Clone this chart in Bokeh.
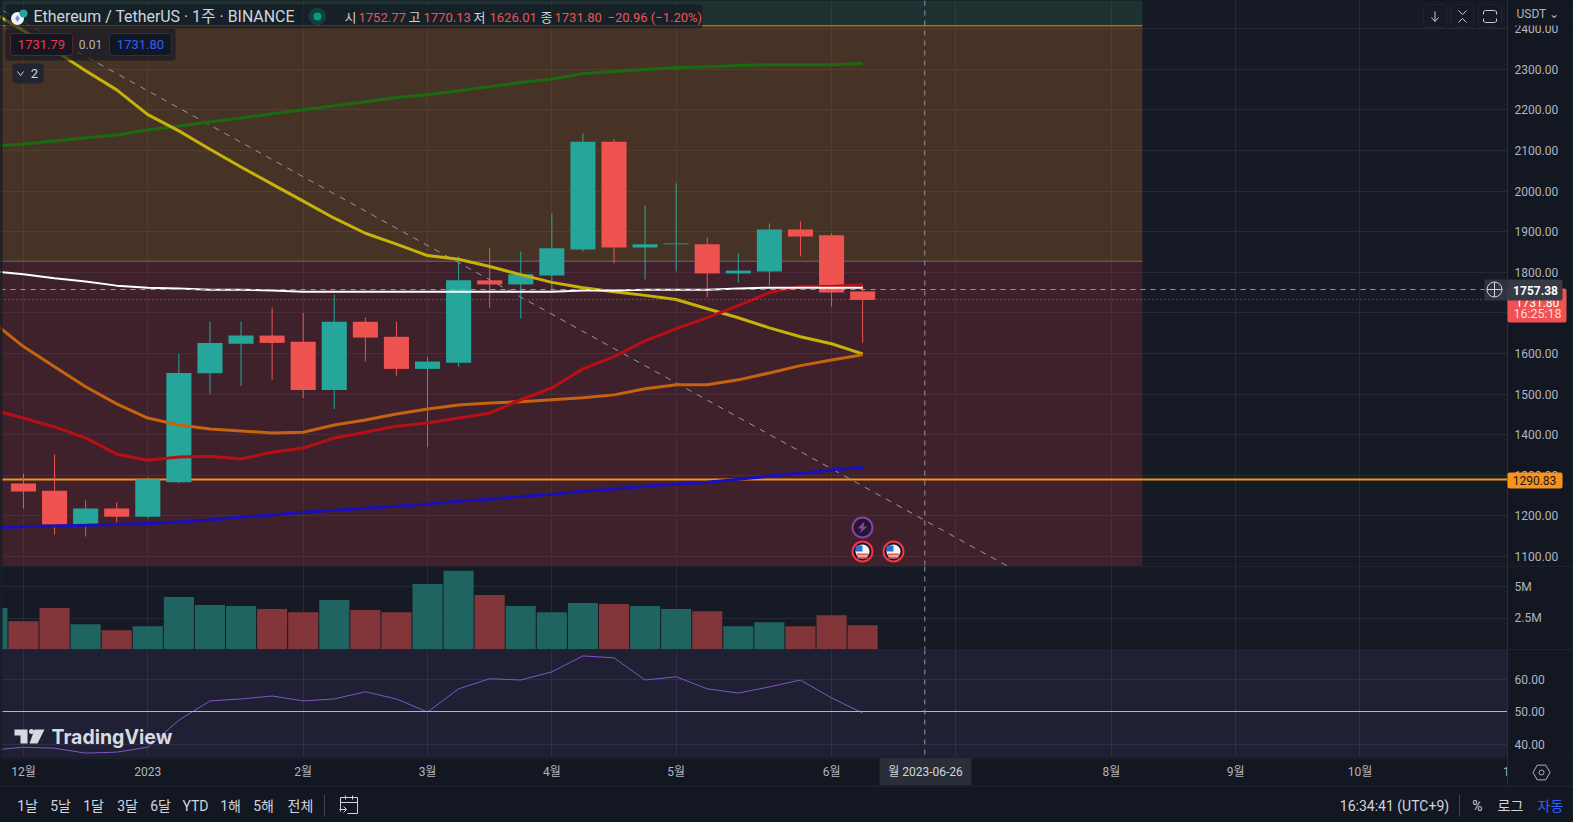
from bokeh.core.properties import value
from bokeh.embed import file_html
from bokeh.layouts import column
from bokeh.models import (BoxAnnotation, ColumnDataSource, FixedTicker, GlobalInlineStyleSheet, Label,
                          NumeralTickFormatter, Range1d, Span)
from bokeh.plotting import figure
from bokeh.resources import INLINE
import pandas as pd

# ETH/USDT weekly, 2022-11-28 .. 2023-06-12
dates = ["2022-11-28", "2022-12-05", "2022-12-12", "2022-12-19", "2022-12-26", "2023-01-02", "2023-01-09",
         "2023-01-16", "2023-01-23", "2023-01-30", "2023-02-06", "2023-02-13", "2023-02-20", "2023-02-27",
         "2023-03-06", "2023-03-13", "2023-03-20", "2023-03-27", "2023-04-03", "2023-04-10", "2023-04-17",
         "2023-04-24", "2023-05-01", "2023-05-08", "2023-05-15", "2023-05-22", "2023-05-29", "2023-06-05",
         "2023-06-12"]
# candles start one week later, the first week is off screen
opens = [1280, 1262, 1179, 1218, 1198, 1283, 1551, 1624, 1644, 1629, 1510, 1678, 1641, 1562, 1577, 1780,
         1770, 1792, 1856, 2121, 1861, 1869, 1869, 1797, 1802, 1905, 1891, 1752.77]
closes = [1260, 1179, 1218, 1198, 1290, 1552, 1626, 1644, 1626, 1510, 1678, 1639, 1562, 1580, 1780, 1770,
          1795, 1859, 2121, 1861, 1869, 1871, 1797, 1804, 1905, 1888, 1750, 1731.80]
highs = [1304, 1351, 1238, 1233, 1295, 1599, 1678, 1678, 1713, 1700, 1745, 1688, 1678, 1592, 1839, 1859,
         1851, 1945, 2143, 2128, 1965, 2019, 1886, 1846, 1920, 1925, 1896, 1770.13]
lows = [1218, 1154, 1149, 1184, 1194, 1280, 1500, 1520, 1535, 1490, 1463, 1580, 1545, 1369, 1567, 1713,
        1686, 1752, 1851, 1822, 1782, 1802, 1738, 1775, 1767, 1839, 1715, 1626.01]
volumes = [3.31, 2.26, 3.31, 2.02, 1.53, 1.85, 4.19, 3.55, 3.47, 3.23, 2.98, 3.95, 3.15, 2.98, 5.24, 6.29, 4.35,
           3.47, 2.98, 3.71, 3.63, 3.47, 3.23, 3.06, 1.85, 2.18, 1.85, 2.74, 1.94]
rsi = [38.3, 39.2, 38.9, 37.4, 37.7, 39.2, 47.5, 53.4, 54.0, 54.9, 53.4, 54.0, 56.2, 54.0, 50.0, 57.1, 60.2,
       59.8, 62.3, 67.2, 66.6, 59.8, 60.8, 57.1, 55.8, 57.7, 59.8, 54.3, 49.7]

ma_yellow = [2440, 2395, 2346, 2296, 2249, 2188, 2148, 2103, 2059, 2017, 1975, 1933, 1896, 1869, 1841, 1832, 1814,
             1794, 1775, 1762, 1752, 1743, 1733, 1710, 1688, 1663, 1641, 1624, 1599]
ma_orange = [1678, 1617, 1567, 1518, 1476, 1441, 1424, 1414, 1409, 1404, 1406, 1424, 1436, 1451, 1463, 1473, 1478,
             1481, 1486, 1491, 1498, 1513, 1523, 1523, 1535, 1552, 1570, 1584, 1597]
ma_red = [1461, 1441, 1419, 1392, 1352, 1337, 1345, 1347, 1340, 1357, 1367, 1392, 1406, 1421, 1429, 1441, 1453,
          1486, 1515, 1562, 1592, 1631, 1661, 1688, 1718, 1750, 1765, 1765, 1770]
ma_white = [1802, 1795, 1785, 1777, 1767, 1762, 1760, 1757, 1757, 1755, 1752, 1752, 1752, 1752, 1752, 1752, 1752,
            1752, 1752, 1755, 1755, 1757, 1757, 1757, 1760, 1762, 1762, 1762, 1762]
ma_green = [2111, 2116, 2123, 2131, 2138, 2150, 2160, 2170, 2180, 2190, 2200, 2210, 2220, 2230, 2237, 2247, 2257,
            2267, 2276, 2289, 2294, 2299, 2304, 2306, 2309, 2311, 2311, 2311, 2314]
ma_blue = [1171, 1173, 1175, 1177, 1179, 1181, 1185, 1190, 1197, 1202, 1209, 1214, 1219, 1224, 1229, 1236, 1241,
           1248, 1253, 1261, 1266, 1273, 1278, 1283, 1290, 1298, 1305, 1313, 1320]

trend_dates = ["2022-11-14", "2023-07-17"]
trend_prices = [2543, 1062]
zone_dates = ["2022-06-06", "2023-08-14"]
zone_levels = [2600, 2407, 1827, 1000]
last_price = 1731.80
cross_price = 1757.38
support_price = 1290.83
cross_date = "2023-06-26"

price_ticks = [1100, 1200, 1300, 1400, 1500, 1600, 1700, 1800, 1900, 2000, 2100, 2200, 2300, 2400]
volume_ticks = [2500000, 5000000]
volume_tick_labels = ["2.5M", "5M"]
rsi_ticks = [40, 50, 60]
month_dates = ["2022-12-05", "2023-01-02", "2023-02-06", "2023-03-06", "2023-04-03", "2023-05-01", "2023-06-05",
               "2023-08-07", "2023-09-04", "2023-10-02", "2023-11-06"]
month_labels = ["12월", "2023", "2월", "3월", "4월", "5월", "6월", "8월", "9월", "10월", "11월"]
range_buttons = ["1날", "5날", "1달", "3달", "6달", "YTD", "1해", "5해", "전체"]
range_button_x = [27, 60, 93, 127, 160, 195, 230, 263, 300]

BG = "#131722"
FRAME = "#161a25"
GRID = "#262a36"
SEP = "#2a2e39"
TXT = "#b2b5be"
UP = "#26a69a"
DOWN = "#ef5350"
FONT = "Roboto, 'Noto Sans CJK KR', sans-serif"
PX = dict(x_range_name="px", y_range_name="px")
OVER = dict(x_range_name="px", y_range_name="px", level="overlay")


def ms(day):
    return pd.Timestamp(day).timestamp() * 1000


# the time scale: one week is 31.08px and 2023-01-02 sits at x=147.3
week_ms = 7 * 86400000
anchor = ms("2023-01-02")
x_range = Range1d(anchor - 147.3 / 31.08 * week_ms, anchor + 1425.7 / 31.08 * week_ms)
axis_x = anchor + 1359.7 / 31.08 * week_ms
month_ms = [ms(d) for d in month_dates] + [ms("2023-07-03")]

candles = ColumnDataSource(dict(
    t=pd.to_datetime(dates[1:]), o=opens, c=closes, h=highs, l=lows,
    body=[UP if c >= o else DOWN for o, c in zip(opens, closes)],
))
lower = ColumnDataSource(dict(
    t=pd.to_datetime(dates), vol=[v * 1000000 for v in volumes], rsi=rsi,
    volc=["#1f6460"] + ["#1f6460" if c >= o else "#823639" for o, c in zip(opens, closes)],
))


def pane(height, y_start, y_end, top_px, bottom_px):
    f = figure(x_range=x_range, y_range=Range1d(y_start, y_end), x_axis_location=None, y_axis_location="right",
               frame_width=1573, frame_height=height, min_border=0,
               output_backend="svg", toolbar_location=None, background_fill_color=FRAME, border_fill_color=BG)
    f.outline_line_color = None
    f.extra_x_ranges = {"px": Range1d(0, 1573)}
    f.extra_y_ranges = {"px": Range1d(bottom_px, top_px)}
    f.xgrid.ticker = FixedTicker(ticks=month_ms)
    f.xgrid.grid_line_color = GRID
    f.ygrid.grid_line_color = GRID
    f.yaxis.fixed_location = axis_x
    f.yaxis.axis_line_color = SEP
    f.yaxis.major_tick_line_color = None
    f.yaxis.minor_tick_line_color = None
    f.yaxis.major_label_text_color = TXT
    f.yaxis.major_label_text_font = FONT
    f.yaxis.major_label_text_font_size = "12px"
    f.yaxis.major_label_standoff = 1
    return f


def cover(f, top_px, bottom_px):
    # plain background behind the price scale, grid and levels stop at the axis
    f.quad(left=[1507], right=[1573], top=[top_px], bottom=[bottom_px], fill_color=BG, line_color=None, **PX)


def box(f, l, t, r, b, fill, alpha=1.0, line=None, radius=0):
    f.add_layout(BoxAnnotation(left=l, right=r, top=t, bottom=b, x_range_name="px", y_range_name="px",
                               fill_color=fill, fill_alpha=alpha, line_color=line, border_radius=radius))


def note(f, x, y, text, color=TXT, size=13, align="left", style="normal", font=FONT):
    f.add_layout(Label(x=x, y=y, text=text, x_range_name="px", y_range_name="px", text_color=color,
                       text_font=font, text_font_size=f"{size}px", text_align=align, text_baseline="middle",
                       text_font_style=style))


# price pane
p = pane(566, 1075.4, 2469.1, 0, 566)
p.yaxis.ticker = FixedTicker(ticks=price_ticks)
p.yaxis.formatter = NumeralTickFormatter(format="0.00")

zone_x = pd.to_datetime(zone_dates)
for top, bottom, color in zip(zone_levels[:-1], zone_levels[1:], ["#397a5c", "#d98128", "#bd3944"]):
    p.quad(left=zone_x[0], right=zone_x[1], top=top, bottom=bottom, fill_color=color, fill_alpha=0.25, line_color=None)
p.line(zone_x, [zone_levels[1]] * 2, line_color="#f57c00", line_width=1)
p.line(zone_x, [zone_levels[2]] * 2, line_color="#6b6670", line_width=1)
p.hspan(y=[support_price], line_color="#f7931a", line_width=2)
p.line(pd.to_datetime(trend_dates), trend_prices, line_color="#9598a1", line_width=1, line_dash=[6, 6])

p.segment("t", "h", "t", "l", source=candles, line_color="body", line_width=1)
p.vbar("t", top="o", bottom="c", width=week_ms * 25 / 31, source=candles, fill_color="body", line_color=None)

for series, color, lw in [(ma_green, "#1a6b10", 3), (ma_yellow, "#c7b20b", 3), (ma_orange, "#c7620f", 3),
                          (ma_red, "#b80f15", 3), (ma_blue, "#1a0fb9", 3), (ma_white, "#ffffff", 2)]:
    p.line(pd.to_datetime(dates), series, line_color=color, line_width=lw)

p.hspan(y=[last_price], line_color="#ef5350", line_width=1, line_dash=value([1, 3]))
p.hspan(y=[cross_price], line_color="#9598a1", line_width=1, line_dash=value([5, 5]))
cover(p, 0, 566)
p.add_layout(Span(location=ms(cross_date), dimension="height", line_color="#9598a1", line_width=1, line_dash=[5, 5]))
box(p, 0, 0, 2, 566, "#17212b")

# legend panels
box(p, 5, 4, 702, 28, "#131722", 0.65, radius=3)
box(p, 5, 28, 175, 60, "#131722", 0.65, radius=3)
note(p, 33, 16, "Ethereum / TetherUS · 1주 · BINANCE", "#d1d4dc", 15.9)
for x, text, color in [(344, "시", "#d1d4dc"), (358, "1752.77", DOWN), (408, "고", "#d1d4dc"), (423, "1770.13", DOWN),
                       (473, "저", "#d1d4dc"), (489, "1626.01", DOWN), (540, "종", "#d1d4dc"), (554, "1731.80", DOWN),
                       (607, "−20.96 (−1.20%)", DOWN)]:
    note(p, x, 17, text, color, 13)
box(p, 10, 33, 72, 55, "#131722", line="#f23645", radius=3)
note(p, 41, 44, "1731.79", "#f23645", 13, "center")
note(p, 90, 44, "0.01", TXT, 12, "center")
box(p, 109, 33, 171, 55, "#131722", line="#2962ff", radius=3)
note(p, 140, 44, "1731.80", "#2962ff", 13, "center")
box(p, 12, 63, 43, 83, "#22252f", radius=3)
note(p, 34, 73, "2", "#d1d4dc", 13, "center")
p.multi_line([[17, 20, 23]], [[71, 75, 71]], line_color="#d1d4dc", **OVER)

# symbol logo and status dot
p.scatter([17], [18], size=13, fill_color="#f0f3fa", line_color=None, **OVER)
p.scatter([17], [18], size=7, marker="diamond", fill_color="#7b8cd8", line_color=None, **OVER)
p.scatter([23], [13], size=8, fill_color="#26a69a", line_color=None, **OVER)
p.scatter([317], [16], size=18, fill_color="#089981", fill_alpha=0.25, line_color=None, **OVER)
p.scatter([317], [16], size=8, fill_color="#089981", line_color=None, **OVER)

# top right buttons
for l in [1423, 1450, 1478]:
    box(p, l, 4, l + 23, 27, "#161a25", line="#363a45", radius=4)
p.multi_line([[1434.5, 1434.5], [1431, 1434.5, 1438], [1458, 1462, 1466], [1458, 1462, 1466],
              [1483, 1483, 1485, 1494, 1496, 1496], [1483, 1483, 1485, 1494, 1496, 1496]],
             [[11, 21], [17, 21, 17], [10, 14, 10], [22, 18, 22], [14, 11, 10, 10, 11, 14], [18, 21, 22, 22, 21, 18]],
             line_color="#c8cbd3", line_width=1, **OVER)

# event markers
p.scatter([862], [527], size=20, fill_color="#1e1a2c", line_color="#8e3fa8", line_width=2, **OVER)
p.patch([864, 857, 861, 859, 867, 863], [521, 528, 528, 533, 526, 526], fill_color="#8e3fa8", line_color=None, **OVER)
for fx in [862, 893]:
    p.scatter([fx], [551], size=20, fill_color="#131722", line_color="#f23645", line_width=2, **OVER)
    p.scatter([fx], [551], size=14, fill_color="#f5f5f5", line_color=None, **OVER)
    p.quad(left=[fx - 7], right=[fx], top=[545], bottom=[551], fill_color="#2f6fd0", line_color=None, **OVER)
    p.quad(left=[fx - 6, fx - 5], right=[fx + 6, fx + 5], top=[553, 556], bottom=[555, 558], fill_color="#ef5350",
           line_color=None, **OVER)

# price axis boxes
box(p, 1508, 0, 1573, 25, BG)
note(p, 1516, 13, "USDT ⌄", TXT, 12)
box(p, 1507, 472, 1562, 488, "#f7931a", radius=2)
note(p, 1534, 480, "1290.83", "#131722", 12, "center")
box(p, 1507, 288, 1566, 322, "#f05252", radius=2)
note(p, 1537, 302, "1731.80", "#ffffff", 12, "center")
note(p, 1537, 313, "16:25:18", "#ffd9d9", 12.5, "center")
box(p, 1484, 279, 1507, 300, "#2f3340")
box(p, 1507, 279, 1562, 300, "#363a45", radius=2)
note(p, 1535, 290, "1757.38", "#ffffff", 12, "center", "bold")
p.scatter([1494], [289], marker="circle_cross", size=15, fill_color=None, line_color="#d1d4dc", **OVER)

# volume pane
v = pane(83, 0, 6630000, 566, 649)
v.yaxis.ticker = FixedTicker(ticks=volume_ticks)
v.yaxis.major_label_overrides = dict(zip(volume_ticks, volume_tick_labels))
v.vbar("t", top="vol", width=week_ms * 30 / 31, source=lower, fill_color="volc", line_color=None)
cover(v, 566, 649)
v.add_layout(Span(location=ms(cross_date), dimension="height", line_color="#9598a1", line_width=1, line_dash=[5, 5]))
v.line([0, 1573], [566, 566], line_color=SEP, **PX)
box(v, 0, 566, 2, 649, "#17212b")

# rsi pane
r = pane(108, 36.05, 69.16, 649, 757)
r.yaxis.ticker = FixedTicker(ticks=rsi_ticks)
r.yaxis.formatter = NumeralTickFormatter(format="0.00")
r.hstrip(y0=[30], y1=[70], fill_color="#7e57c2", fill_alpha=0.1, line_color=None)
r.line("t", "rsi", source=lower, line_color="#7e57c2", line_width=1)
r.hspan(y=[50], line_color="#b2b5be", line_width=1)
cover(r, 649, 757)
r.add_layout(Span(location=ms(cross_date), dimension="height", line_color="#9598a1", line_width=1, line_dash=[5, 5]))
r.line([0, 1573], [649, 649], line_color=SEP, **PX)
box(r, 0, 649, 2, 757, "#17212b")
# TradingView logo
r.patch([14, 27, 27, 20, 20, 14], [729, 729, 743, 743, 735, 735], fill_color="#d8dae2", line_color=None, **OVER)
r.patch([34, 44, 37, 29], [729, 729, 743, 743], fill_color="#d8dae2", line_color=None, **OVER)
r.scatter([31], [731], size=5, fill_color="#d8dae2", line_color=None, **OVER)
note(r, 51, 736, "TradingView", "#d8dae2", 19.5, "left", "bold", "Inter")

# time axis strip
tx = figure(x_range=x_range, y_range=Range1d(785, 757), x_axis_location=None, y_axis_location=None,
            frame_width=1573, frame_height=28, min_border=0,
            output_backend="svg", toolbar_location=None, background_fill_color=BG, border_fill_color=BG)
tx.outline_line_color = None
tx.grid.visible = False
tx.extra_x_ranges = {"px": Range1d(0, 1573)}
tx.extra_y_ranges = {"px": Range1d(785, 757)}
tx.text(x=pd.to_datetime(month_dates), y=[771] * len(month_dates), text=month_labels, text_color=TXT,
        text_font=value(FONT), text_font_size="12px", text_align="center", text_baseline="middle")
tx.line([0, 1573], [757.5, 757.5], line_color=SEP, **PX)
box(tx, 1507, 757, 1573, 785, BG)
box(tx, 879, 757, 971, 785, "#2a2e39", radius=2)
note(tx, 925, 771, "월 2023-06-26", "#d1d4dc", 12, "center")
tx.line([1507, 1507], [757, 785], line_color=SEP, level="overlay", x_range_name="px", y_range_name="px")
tx.scatter([1541], [772], marker="hex", size=17, fill_color=None, line_color=TXT, **OVER)
tx.scatter([1541], [772], size=5, fill_color=None, line_color=TXT, **OVER)

# bottom bar
b = figure(x_range=Range1d(0, 1573), y_range=Range1d(822, 785), x_axis_location=None, y_axis_location=None,
           frame_width=1573, frame_height=37, min_border=0, output_backend="svg", toolbar_location=None,
           background_fill_color=BG, border_fill_color=BG)
b.outline_line_color = None
b.grid.visible = False
b.extra_x_ranges = {"px": Range1d(0, 1573)}
b.extra_y_ranges = {"px": Range1d(822, 785)}
b.line([0, 1573], [785.5, 785.5], line_color=SEP)
for x, text in zip(range_button_x, range_buttons):
    note(b, x, 805, text, "#d1d4dc", 14, "center")
b.line([324, 324], [794, 816], line_color="#434651")
b.line([1459, 1459], [794, 816], line_color="#434651")
b.multi_line([[340, 340, 357, 357, 347], [340, 357], [345, 345], [352, 352], [339, 346], [343, 346, 343]],
             [[811, 797, 797, 813, 813], [802, 802], [795, 799], [795, 799], [809, 809], [806, 809, 812]],
             line_color="#d1d4dc")
note(b, 1394, 805, "16:34:41 (UTC+9)", "#d1d4dc", 14, "center")
note(b, 1477, 805, "%", "#d1d4dc", 14, "center")
note(b, 1510, 805, "로그", "#d1d4dc", 14, "center")
note(b, 1550, 805, "자동", "#2962ff", 14, "center")

page = column(p, v, r, tx, b, spacing=0)
page.stylesheets = [GlobalInlineStyleSheet(css="html,body{background:#131722;}")]

open("out.html", "w").write(file_html(page, INLINE))
